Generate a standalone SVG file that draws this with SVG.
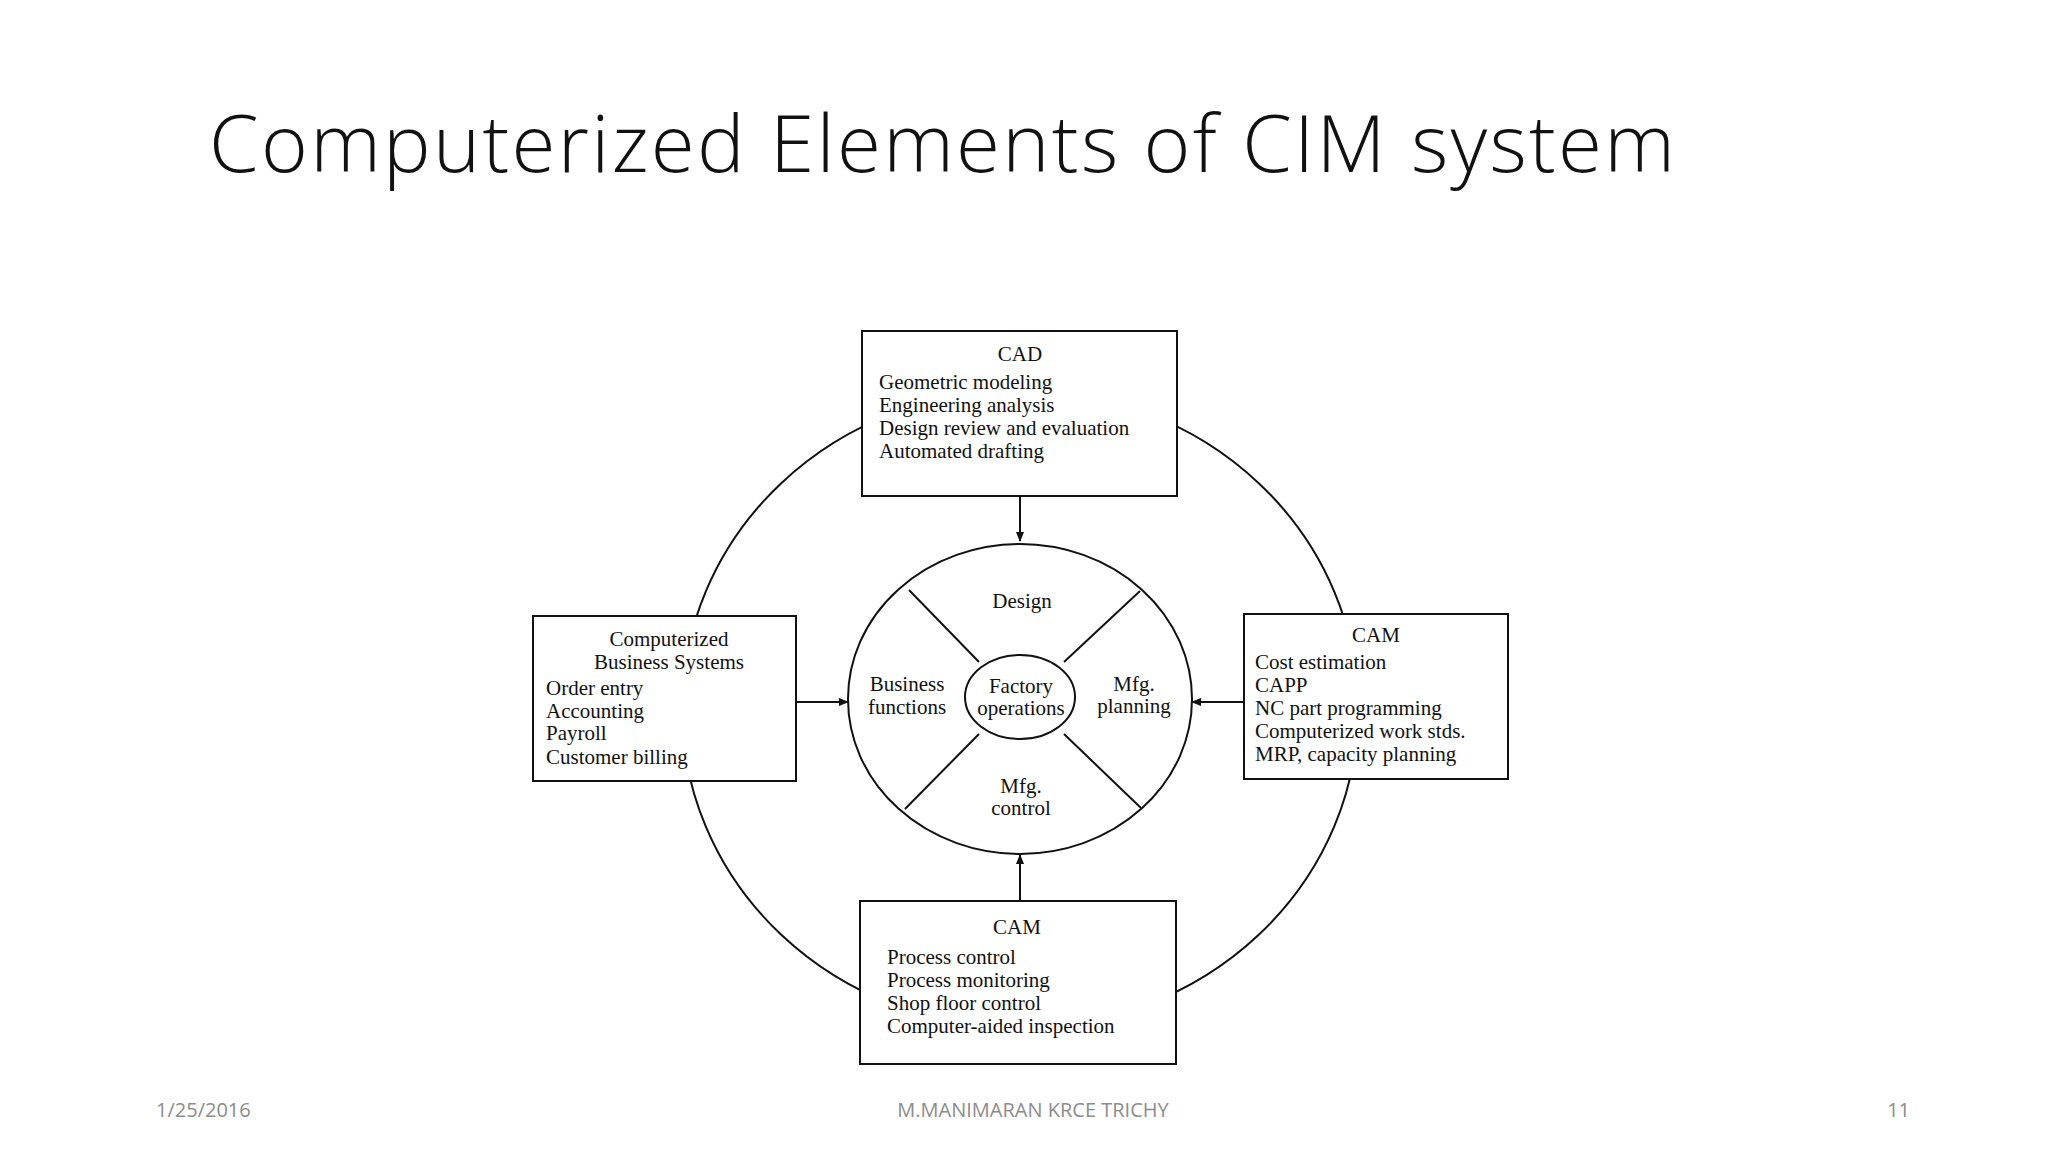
<svg xmlns="http://www.w3.org/2000/svg" width="2048" height="1152" viewBox="0 0 2048 1152">
<style>
.t{font-family:"Liberation Serif",serif;font-size:21px;fill:#111}
.c{text-anchor:middle}
.b{fill:#fff;stroke:#111;stroke-width:2}
.l{fill:none;stroke:#111;stroke-width:2}
.f{font-family:"Open Sans","Liberation Sans",sans-serif;font-size:20px;fill:#8c8c8c}
</style>
<defs><marker id="a" markerWidth="10" markerHeight="10" refX="9" refY="5" orient="auto" markerUnits="userSpaceOnUse"><path d="M0,1 L10,5 L0,9 Z" fill="#111"/></marker></defs>
<rect width="2048" height="1152" fill="#fff"/>
<text x="209" y="172" font-family="Open Sans,Liberation Sans,sans-serif" font-weight="300" font-size="80" fill="#111" textLength="1466">Computerized Elements of CIM system</text>
<ellipse class="l" cx="1020" cy="709" rx="338" ry="319"/>
<g id="center">
<ellipse class="l" cx="1020" cy="699" rx="172" ry="155"/>
<ellipse class="l" cx="1020" cy="697" rx="55" ry="42"/>
<path class="l" d="M979,662 L909,590 M1064,662 L1140,591 M979,734 L905,809 M1064,734 L1141,808"/>
<text class="t c" x="1022" y="608">Design</text>
<text class="t c" x="907" y="691">Business</text><text class="t c" x="907" y="714">functions</text>
<text class="t c" x="1021" y="693">Factory</text><text class="t c" x="1021" y="715">operations</text>
<text class="t c" x="1134" y="691">Mfg.</text><text class="t c" x="1134" y="713">planning</text>
<text class="t c" x="1021" y="793">Mfg.</text><text class="t c" x="1021" y="815">control</text>
</g>
<g id="cad"><rect class="b" x="862" y="331" width="315" height="165"/>
<text class="t c" x="1020" y="361">CAD</text>
<text class="t" x="879" y="389">Geometric modeling</text><text class="t" x="879" y="412">Engineering analysis</text><text class="t" x="879" y="435">Design review and evaluation</text><text class="t" x="879" y="458">Automated drafting</text></g>
<g id="cbs"><rect class="b" x="533" y="616" width="263" height="165"/>
<text class="t c" x="669" y="646">Computerized</text><text class="t c" x="669" y="669">Business Systems</text>
<text class="t" x="546" y="695">Order entry</text><text class="t" x="546" y="718">Accounting</text><text class="t" x="546" y="740">Payroll</text><text class="t" x="546" y="764">Customer billing</text></g>
<g id="cam1"><rect class="b" x="1244" y="614" width="264" height="165"/>
<text class="t c" x="1376" y="642">CAM</text>
<text class="t" x="1255" y="669">Cost estimation</text><text class="t" x="1255" y="692">CAPP</text><text class="t" x="1255" y="715">NC part programming</text><text class="t" x="1255" y="738">Computerized work stds.</text><text class="t" x="1255" y="761">MRP, capacity planning</text></g>
<g id="cam2"><rect class="b" x="860" y="901" width="316" height="163"/>
<text class="t c" x="1017" y="934">CAM</text>
<text class="t" x="887" y="964">Process control</text><text class="t" x="887" y="987">Process monitoring</text><text class="t" x="887" y="1010">Shop floor control</text><text class="t" x="887" y="1033">Computer-aided inspection</text></g>
<g id="connectors" class="l" marker-end="url(#a)">
<path class="l" d="M1020,496 L1020,541" marker-end="url(#a)"/>
<path class="l" d="M1020,901 L1020,855" marker-end="url(#a)"/>
<path class="l" d="M796,702 L848,702" marker-end="url(#a)"/>
<path class="l" d="M1244,702 L1192,702" marker-end="url(#a)"/>
</g>
<text class="f" x="156" y="1117">1/25/2016</text>
<text class="f c" x="1033" y="1117">M.MANIMARAN KRCE TRICHY</text>
<text class="f" x="1910" y="1117" text-anchor="end">11</text>
</svg>
